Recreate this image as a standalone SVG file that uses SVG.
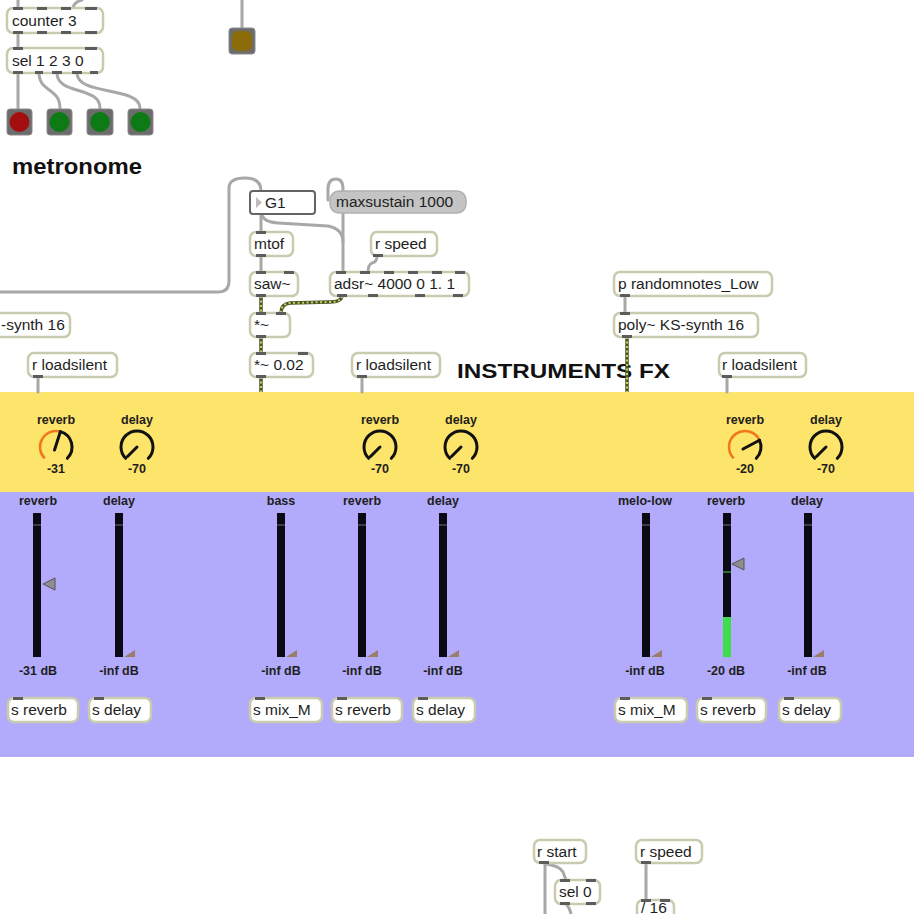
<svg xmlns="http://www.w3.org/2000/svg" width="914" height="914" viewBox="0 0 914 914">
<defs>
<style>
.box{fill:#fff;stroke:#c9cbaf;stroke-width:2.5}
.t{font-family:"Liberation Sans",Arial,sans-serif;font-size:15.5px;fill:#1e1e1e}
.lb{font-family:"Liberation Sans",Arial,sans-serif;font-size:12.5px;font-weight:bold;fill:#1e1e1e;text-anchor:middle}
.io{fill:#5c5c5c}
.cord{fill:none;stroke:#a8a8a8;stroke-width:3;stroke-linecap:round;stroke-linejoin:round}
.sig{fill:none;stroke:#4a5326;stroke-width:3.5}
.sigd{fill:none;stroke:#c6d15e;stroke-width:2;stroke-dasharray:2 2.5}
.arc{fill:none;stroke:#111;stroke-width:3;stroke-linecap:round}
.arco{fill:none;stroke:#f07818;stroke-width:2.5}
.bar{fill:#0a0a14}
.btn{fill:#6c6c6c;stroke:#8a8a8a;stroke-width:1}
.tri{fill:#8e8e8e;stroke:#555;stroke-width:1}
.mt{fill:#9a7d6a}
</style>
</defs>
<rect width="914" height="914" fill="#fff"/>
<!-- panels -->
<rect id="panel-fx" x="0" y="392" width="914" height="100" fill="#fde46a"/>
<rect id="panel-mix" x="0" y="492" width="914" height="265" fill="#b2aafb"/>
<!-- comments -->
<text id="c-metronome" x="12" y="174" font-family="Liberation Sans,Arial,sans-serif" font-weight="bold" font-size="22" fill="#111" textLength="130" lengthAdjust="spacingAndGlyphs">metronome</text>
<text id="c-fx" x="457" y="378" font-family="Liberation Sans,Arial,sans-serif" font-weight="bold" font-size="21" fill="#111" textLength="213" lengthAdjust="spacingAndGlyphs">INSTRUMENTS FX</text>

<g id="connectors">
<path class="cord" d="M18,0 L18,8"/>
<path class="cord" d="M73,8 Q74,2 82,0"/>
<path class="cord" d="M18,33 L18,48"/>
<path class="cord" d="M18,73 L18,108"/>
<path class="cord" d="M39,73 C39,92 60,88 60,108"/>
<path class="cord" d="M57,73 C57,95 100,86 100,108"/>
<path class="cord" d="M77,73 C77,96 140,86 140,108"/>
<path class="cord" d="M242,0 L242,28"/>
<path class="cord" d="M0,292 L218,292 Q229,292 229,281 L229,188 Q229,178 245,178 Q261,178 261,191"/>
<path class="cord" d="M261,214 L261,232"/>
<path class="cord" d="M262,214 Q263,222 278,223 L328,226 Q343,229 343,242"/>
<path class="cord" d="M343,272 L343,189 Q343,179 336,179 Q328,179 328,189 L328,200"/>
<path class="cord" d="M261,256 L261,272"/>
<path class="cord" d="M377,256 Q377,262 372,263 Q368,265 368,272"/>
<path class="cord" d="M625,296 L625,313"/>
<path class="cord" d="M38,377 L38,392"/>
<path class="cord" d="M362,377 L362,392"/>
<path class="cord" d="M727,377 L727,392"/>
<path class="cord" d="M545,863 L545,914"/>
<path class="cord" d="M546,864 Q560,866 563,872 L566,880"/>
<path class="cord" d="M566,904 Q570,908 571,914"/>
<path class="cord" d="M646,863 L646,900"/>
<g>
<path class="sig" d="M261,296 L261,313"/><path class="sigd" d="M261,296 L261,313"/>
<path class="sig" d="M342,296 Q341,302 330,302 L290,303 Q281,304 281,313"/><path class="sigd" d="M342,296 Q341,302 330,302 L290,303 Q281,304 281,313"/>
<path class="sig" d="M261,337 L261,353"/><path class="sigd" d="M261,337 L261,353"/>
<path class="sig" d="M261,377 L261,392"/><path class="sigd" d="M261,377 L261,392"/>
<path class="sig" d="M627,337 L627,392"/><path class="sigd" d="M627,337 L627,392"/>
</g>
</g>

<!-- metronome -->
<g id="counter">
<rect class="box" x="7" y="8" width="96" height="25" rx="6"/>
<rect class="io" x="13" y="7" width="10" height="3"/><rect class="io" x="37" y="7" width="10" height="3"/><rect class="io" x="61" y="7" width="10" height="3"/><rect class="io" x="85" y="7" width="12" height="3"/>
<rect class="io" x="13" y="31" width="10" height="3"/><rect class="io" x="37" y="31" width="10" height="3"/><rect class="io" x="61" y="31" width="10" height="3"/><rect class="io" x="85" y="31" width="12" height="3"/>
<text class="t" x="12" y="26">counter 3</text>
</g>
<g id="sel1230">
<rect class="box" x="7" y="48" width="96" height="25" rx="6"/>
<rect class="io" x="13" y="47" width="10" height="3"/><rect class="io" x="85" y="47" width="12" height="3"/>
<rect class="io" x="13" y="71" width="10" height="3"/><rect class="io" x="35" y="71" width="8" height="3"/><rect class="io" x="52" y="71" width="10" height="3"/><rect class="io" x="72" y="71" width="10" height="3"/><rect class="io" x="90" y="71" width="8" height="3"/>
<text class="t" x="12" y="66">sel 1 2 3 0</text>
</g>
<g id="btn-red"><rect class="btn" x="7" y="109" width="25" height="26" rx="3"/><circle cx="19.5" cy="122" r="10" fill="#a30f0f"/></g>
<g id="btn-g1"><rect class="btn" x="47" y="109" width="25" height="26" rx="3"/><circle cx="59.5" cy="122" r="10" fill="#0d7a16"/></g>
<g id="btn-g2"><rect class="btn" x="87" y="109" width="26" height="26" rx="3"/><circle cx="100" cy="122" r="10" fill="#0d7a16"/></g>
<g id="btn-g3"><rect class="btn" x="128" y="109" width="25" height="26" rx="3"/><circle cx="140.5" cy="122" r="10" fill="#0d7a16"/></g>
<g id="btn-olive"><rect class="btn" x="229" y="28" width="26" height="26" rx="3"/><rect x="232" y="31" width="20" height="20" rx="6" fill="#8b6c08"/></g>

<!-- bass synth chain -->
<g id="g1">
<rect x="250" y="191" width="65" height="23" rx="3" fill="#fff" stroke="#646464" stroke-width="2"/>
<polygon points="256,197 256,208 262,202.5" fill="#bdbdbd"/>
<text class="t" x="265" y="208">G1</text>
</g>
<g id="maxsustain">
<rect x="330" y="191" width="136" height="22" rx="9" fill="#c4c4c4" stroke="#b0b0b0" stroke-width="1.5"/>
<text class="t" x="336" y="207" fill="#333">maxsustain 1000</text>
</g>
<g id="mtof">
<rect class="box" x="250" y="232" width="43" height="24" rx="6"/>
<rect class="io" x="256" y="231" width="10" height="3"/><rect class="io" x="256" y="254" width="10" height="3"/>
<text class="t" x="254" y="249">mtof</text>
</g>
<g id="rspeed1">
<rect class="box" x="371" y="232" width="66" height="24" rx="6"/>
<rect class="io" x="373" y="254" width="10" height="3"/>
<text class="t" x="375" y="249">r speed</text>
</g>
<g id="saw">
<rect class="box" x="250" y="272" width="48" height="24" rx="6"/>
<rect class="io" x="256" y="271" width="10" height="3"/><rect class="io" x="284" y="271" width="10" height="3"/><rect class="io" x="256" y="294" width="10" height="3"/>
<text class="t" x="254" y="289">saw~</text>
</g>
<g id="adsr">
<rect class="box" x="330" y="272" width="139" height="24" rx="6"/>
<rect class="io" x="336" y="271" width="10" height="3"/><rect class="io" x="360" y="271" width="10" height="3"/><rect class="io" x="384" y="271" width="10" height="3"/><rect class="io" x="408" y="271" width="10" height="3"/><rect class="io" x="432" y="271" width="10" height="3"/><rect class="io" x="455" y="271" width="10" height="3"/>
<rect class="io" x="337" y="294" width="10" height="3"/><rect class="io" x="368" y="294" width="10" height="3"/><rect class="io" x="415" y="294" width="10" height="3"/><rect class="io" x="453" y="294" width="10" height="3"/>
<text class="t" x="334" y="289">adsr~ 4000 0 1. 1</text>
</g>
<g id="mul">
<rect class="box" x="250" y="313" width="40" height="24" rx="6"/>
<rect class="io" x="256" y="312" width="10" height="3"/><rect class="io" x="276" y="312" width="10" height="3"/><rect class="io" x="256" y="335" width="10" height="3"/>
<text class="t" x="254" y="330">*~</text>
</g>
<g id="mul002">
<rect class="box" x="250" y="353" width="63" height="24" rx="6"/>
<rect class="io" x="256" y="352" width="10" height="3"/><rect class="io" x="298" y="352" width="10" height="3"/><rect class="io" x="256" y="375" width="10" height="3"/>
<text class="t" x="254" y="370">*~ 0.02</text>
</g>
<g id="polyL">
<rect class="box" x="-80" y="313" width="150" height="24" rx="6"/>
<text class="t" x="1" y="330">-synth 16</text>
</g>
<g id="rload1">
<rect class="box" x="28" y="353" width="89" height="24" rx="6"/>
<rect class="io" x="33" y="375" width="10" height="3"/>
<text class="t" x="32" y="370">r loadsilent</text>
</g>
<g id="rload2">
<rect class="box" x="352" y="353" width="88" height="24" rx="6"/>
<rect class="io" x="357" y="375" width="10" height="3"/>
<text class="t" x="356" y="370">r loadsilent</text>
</g>
<g id="rload3">
<rect class="box" x="719" y="353" width="87" height="24" rx="6"/>
<rect class="io" x="722" y="375" width="10" height="3"/>
<text class="t" x="722" y="370">r loadsilent</text>
</g>
<g id="randomnotes">
<rect class="box" x="614" y="272" width="158" height="24" rx="6"/>
<rect class="io" x="620" y="294" width="10" height="3"/>
<text class="t" x="618" y="289">p randomnotes_Low</text>
</g>
<g id="polyKS">
<rect class="box" x="614" y="313" width="144" height="24" rx="6"/>
<rect class="io" x="620" y="312" width="10" height="3"/><rect class="io" x="622" y="335" width="10" height="3"/>
<text class="t" x="618" y="330">poly~ KS-synth 16</text>
</g>

<!-- dials -->
<g id="dial-rev1">
<text class="lb" x="56" y="424">reverb</text>
<path class="arco" d="M44.7,458.3 A16,16 0 0 1 60.4,431.6"/>
<path class="arc" d="M60.4,431.6 A16,16 0 0 1 67.3,458.3"/>
<line class="arc" x1="54.5" y1="450" x2="60.4" y2="431.6"/>
<text class="lb" x="56" y="473">-31</text>
</g>
<g id="dial-del1">
<text class="lb" x="137" y="424">delay</text>
<path class="arc" d="M125.7,458.3 A16,16 0 1 1 148.3,458.3"/>
<line class="arc" x1="137" y1="447" x2="127.5" y2="456.5"/>
<text class="lb" x="137" y="473">-70</text>
</g>
<g id="dial-rev2">
<text class="lb" x="380" y="424">reverb</text>
<path class="arc" d="M368.7,458.3 A16,16 0 1 1 391.3,458.3"/>
<line class="arc" x1="380" y1="447" x2="370.5" y2="456.5"/>
<text class="lb" x="380" y="473">-70</text>
</g>
<g id="dial-del2">
<text class="lb" x="461" y="424">delay</text>
<path class="arc" d="M449.7,458.3 A16,16 0 1 1 472.3,458.3"/>
<line class="arc" x1="461" y1="447" x2="451.5" y2="456.5"/>
<text class="lb" x="461" y="473">-70</text>
</g>
<g id="dial-rev3">
<text class="lb" x="745" y="424">reverb</text>
<path class="arco" d="M733.7,458.3 A16,16 0 1 1 759.5,440.2"/>
<path class="arc" d="M759.5,440.2 A16,16 0 0 1 756.3,458.3"/>
<line class="arc" x1="743" y1="449" x2="759.5" y2="440.2"/>
<text class="lb" x="745" y="473">-20</text>
</g>
<g id="dial-del3">
<text class="lb" x="826" y="424">delay</text>
<path class="arc" d="M814.7,458.3 A16,16 0 1 1 837.3,458.3"/>
<line class="arc" x1="826" y1="447" x2="816.5" y2="456.5"/>
<text class="lb" x="826" y="473">-70</text>
</g>

<!-- gain sliders -->
<g id="gain-rev1">
<text class="lb" x="38" y="505">reverb</text>
<rect class="bar" x="33" y="513" width="8" height="144"/><line x1="33" y1="525" x2="41" y2="525" stroke="#6a6a80" stroke-width="1"/>
<polygon class="tri" points="43,584 55,578 55,590"/>
<text class="lb" x="38" y="675">-31 dB</text>
</g>
<g id="gain-del1">
<text class="lb" x="119" y="505">delay</text>
<rect class="bar" x="115" y="513" width="8" height="144"/><line x1="115" y1="525" x2="123" y2="525" stroke="#6a6a80" stroke-width="1"/>
<polygon class="mt" points="124,657 135,657 135,650"/>
<text class="lb" x="119" y="675">-inf dB</text>
</g>
<g id="gain-bass">
<text class="lb" x="281" y="505">bass</text>
<rect class="bar" x="277" y="513" width="8" height="144"/><line x1="277" y1="525" x2="285" y2="525" stroke="#6a6a80" stroke-width="1"/>
<polygon class="mt" points="286,657 297,657 297,650"/>
<text class="lb" x="281" y="675">-inf dB</text>
</g>
<g id="gain-rev2">
<text class="lb" x="362" y="505">reverb</text>
<rect class="bar" x="358" y="513" width="8" height="144"/><line x1="358" y1="525" x2="366" y2="525" stroke="#6a6a80" stroke-width="1"/>
<polygon class="mt" points="367,657 378,657 378,650"/>
<text class="lb" x="362" y="675">-inf dB</text>
</g>
<g id="gain-del2">
<text class="lb" x="443" y="505">delay</text>
<rect class="bar" x="439" y="513" width="8" height="144"/><line x1="439" y1="525" x2="447" y2="525" stroke="#6a6a80" stroke-width="1"/>
<polygon class="mt" points="448,657 459,657 459,650"/>
<text class="lb" x="443" y="675">-inf dB</text>
</g>
<g id="gain-melo">
<text class="lb" x="645" y="505">melo-low</text>
<rect class="bar" x="642" y="513" width="8" height="144"/><line x1="642" y1="525" x2="650" y2="525" stroke="#6a6a80" stroke-width="1"/>
<polygon class="mt" points="651,657 662,657 662,650"/>
<text class="lb" x="645" y="675">-inf dB</text>
</g>
<g id="gain-rev3">
<text class="lb" x="726" y="505">reverb</text>
<rect class="bar" x="723" y="513" width="8" height="144"/><line x1="723" y1="525" x2="731" y2="525" stroke="#6a6a80" stroke-width="1"/>
<rect x="723" y="617" width="8" height="40" fill="#3fdc4c"/>
<line x1="723" y1="572" x2="731" y2="572" stroke="#3d8a3d" stroke-width="1.5"/>
<polygon class="tri" points="732,564 744,558 744,570"/>
<text class="lb" x="726" y="675">-20 dB</text>
</g>
<g id="gain-del3">
<text class="lb" x="807" y="505">delay</text>
<rect class="bar" x="804" y="513" width="8" height="144"/><line x1="804" y1="525" x2="812" y2="525" stroke="#6a6a80" stroke-width="1"/>
<polygon class="mt" points="813,657 824,657 824,650"/>
<text class="lb" x="807" y="675">-inf dB</text>
</g>

<!-- sends -->
<g id="s-rev1"><rect class="box" x="8" y="698" width="70" height="24" rx="6"/><rect class="io" x="13" y="697" width="10" height="3"/><text class="t" x="11" y="715">s reverb</text></g>
<g id="s-del1"><rect class="box" x="89" y="698" width="62" height="24" rx="6"/><rect class="io" x="94" y="697" width="10" height="3"/><text class="t" x="92" y="715">s delay</text></g>
<g id="s-mix1"><rect class="box" x="250" y="698" width="72" height="24" rx="6"/><rect class="io" x="255" y="697" width="10" height="3"/><text class="t" x="253" y="715">s mix_M</text></g>
<g id="s-rev2"><rect class="box" x="332" y="698" width="70" height="24" rx="6"/><rect class="io" x="337" y="697" width="10" height="3"/><text class="t" x="335" y="715">s reverb</text></g>
<g id="s-del2"><rect class="box" x="413" y="698" width="62" height="24" rx="6"/><rect class="io" x="418" y="697" width="10" height="3"/><text class="t" x="416" y="715">s delay</text></g>
<g id="s-mix2"><rect class="box" x="615" y="698" width="72" height="24" rx="6"/><rect class="io" x="620" y="697" width="10" height="3"/><text class="t" x="618" y="715">s mix_M</text></g>
<g id="s-rev3"><rect class="box" x="697" y="698" width="69" height="24" rx="6"/><rect class="io" x="702" y="697" width="10" height="3"/><text class="t" x="700" y="715">s reverb</text></g>
<g id="s-del3"><rect class="box" x="779" y="698" width="62" height="24" rx="6"/><rect class="io" x="784" y="697" width="10" height="3"/><text class="t" x="782" y="715">s delay</text></g>

<!-- bottom -->
<g id="rstart"><rect class="box" x="534" y="840" width="52" height="23" rx="6"/><rect class="io" x="539" y="861" width="10" height="3"/><text class="t" x="537" y="857">r start</text></g>
<g id="sel0"><rect class="box" x="555" y="880" width="45" height="24" rx="6"/><rect class="io" x="560" y="879" width="10" height="3"/><rect class="io" x="586" y="879" width="10" height="3"/><rect class="io" x="560" y="902" width="10" height="3"/><rect class="io" x="586" y="902" width="10" height="3"/><text class="t" x="559" y="897">sel 0</text></g>
<g id="rspeed2"><rect class="box" x="636" y="840" width="66" height="23" rx="6"/><rect class="io" x="641" y="861" width="10" height="3"/><text class="t" x="640" y="857">r speed</text></g>
<g id="div16"><rect class="box" x="637" y="900" width="37" height="24" rx="6"/><rect class="io" x="641" y="899" width="10" height="3"/><rect class="io" x="660" y="899" width="10" height="3"/><text class="t" x="641" y="912.5" font-size="14">/ 16</text></g>
</svg>
